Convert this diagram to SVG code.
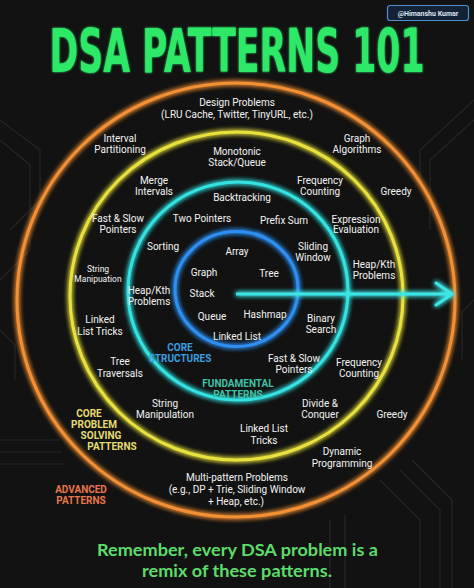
<svg xmlns="http://www.w3.org/2000/svg" width="474" height="588" viewBox="0 0 474 588">
<defs>
<filter id="glow" filterUnits="userSpaceOnUse" x="0" y="0" width="474" height="588">
<feGaussianBlur in="SourceGraphic" stdDeviation="2.5" result="b"/>
<feMerge><feMergeNode in="b"/><feMergeNode in="b"/><feMergeNode in="SourceGraphic"/></feMerge>
</filter>
<filter id="tglow" filterUnits="userSpaceOnUse" x="0" y="0" width="474" height="588">
<feGaussianBlur in="SourceGraphic" stdDeviation="1.2" result="b"/>
<feMerge><feMergeNode in="b"/><feMergeNode in="SourceGraphic"/></feMerge>
</filter>
<marker id="chev" viewBox="0 0 20 26" refX="18" refY="13" markerWidth="20" markerHeight="26" markerUnits="userSpaceOnUse" orient="auto">
<path d="M2 2 L18 13 L2 24" fill="none" stroke="#3ee6e6" stroke-width="3" stroke-linecap="round" stroke-linejoin="round"/>
</marker>
</defs>
<style>
.lbl{font-family:Roboto,"Liberation Sans",sans-serif;font-size:10px;fill:#f2f2f2;text-anchor:middle;dominant-baseline:central}
.sm{font-size:8.5px}
.ring{fill:none;stroke-width:3}
.circ{fill:none;stroke:#262626;stroke-width:1.2}
.cat{font-family:Roboto,"Liberation Sans",sans-serif;font-size:10px;font-weight:bold;text-anchor:middle;dominant-baseline:central}
</style>
<rect x="0" y="0" width="474" height="588" fill="#121212"/>
<g id="circuit">
<path class="circ" d="M0 120 L40 150 L40 200 L10 230"/>
<path class="circ" d="M0 140 L30 165 L30 250 L0 280"/>
<path class="circ" d="M0 330 L15 345 L15 380"/>
<path class="circ" d="M0 440 L60 440 M0 452 L62 452 M0 464 L64 464"/>
<path class="circ" d="M474 100 L420 150 L420 180"/>
<path class="circ" d="M474 120 L430 160 L430 230"/>
<path class="circ" d="M474 300 L462 312 L462 360"/>
<path class="circ" d="M400 470 L440 510 L440 588 M412 460 L452 500 L452 588 M380 480 L420 520 L420 588"/>
<path class="circ" d="M330 520 L330 588 M345 515 L345 588"/>
</g>
<g id="badge">
<rect x="387.5" y="5.5" width="81" height="15" rx="2.5" fill="#142236" stroke="#4f8fcf" stroke-width="1.2"/>
<text x="428" y="13.5" font-family="Roboto,'Liberation Sans',sans-serif" font-size="7" font-weight="bold" fill="#dce6f0" text-anchor="middle" dominant-baseline="central">@Himanshu Kumar</text>
</g>
<g id="title">
<text x="237" y="72" font-family="'Liberation Sans Narrow','DejaVu Sans Condensed','Roboto Condensed',sans-serif" font-size="61" font-weight="bold" fill="#2ee868" text-anchor="middle" textLength="375" lengthAdjust="spacingAndGlyphs" filter="url(#tglow)">DSA PATTERNS 101</text>
</g>
<g id="ring-advanced">
<ellipse class="ring" cx="236" cy="300" rx="219" ry="217" stroke="#f39035" filter="url(#glow)"/>
</g>
<g id="ring-core-problem">
<ellipse class="ring" cx="236.5" cy="296" rx="166.5" ry="164" stroke="#e8e23e" filter="url(#glow)"/>
</g>
<g id="ring-fundamental">
<ellipse class="ring" cx="238" cy="291" rx="110" ry="109" stroke="#34e2e2" filter="url(#glow)"/>
</g>
<g id="ring-core-structures">
<ellipse class="ring" cx="236.5" cy="289" rx="61.5" ry="57.5" stroke="#2f8ff2" filter="url(#glow)"/>
</g>
<g id="connectors">
<line x1="236" y1="294" x2="452" y2="294" stroke="#3ee6e6" stroke-width="3" marker-end="url(#chev)" filter="url(#glow)"/>
</g>
<g id="advanced-labels">
<text class="lbl" x="237" y="102">Design Problems</text>
<text class="lbl" x="237" y="114">(LRU Cache, Twitter, TinyURL, etc.)</text>
<text class="lbl" x="120" y="138">Interval</text>
<text class="lbl" x="120" y="149">Partitioning</text>
<text class="lbl" x="357" y="138">Graph</text>
<text class="lbl" x="357" y="149">Algorithms</text>
<text class="lbl" x="396" y="191">Greedy</text>
<text class="lbl" x="392" y="414">Greedy</text>
<text class="lbl" x="342" y="451">Dynamic</text>
<text class="lbl" x="342" y="463">Programming</text>
<text class="lbl" x="237" y="477">Multi-pattern Problems</text>
<text class="lbl" x="237" y="489">(e.g., DP + Trie, Sliding Window</text>
<text class="lbl" x="236" y="501">+ Heap, etc.)</text>
<text class="cat" x="81" y="489" fill="#e8764c">ADVANCED</text>
<text class="cat" x="81" y="500" fill="#e8764c">PATTERNS</text>
</g>
<g id="core-problem-labels">
<text class="lbl" x="237" y="151">Monotonic</text>
<text class="lbl" x="237" y="162">Stack/Queue</text>
<text class="lbl" x="154" y="180">Merge</text>
<text class="lbl" x="154" y="191">Intervals</text>
<text class="lbl" x="320" y="180">Frequency</text>
<text class="lbl" x="320" y="191">Counting</text>
<text class="lbl" x="118" y="218">Fast &amp; Slow</text>
<text class="lbl" x="118" y="229">Pointers</text>
<text class="lbl" x="356" y="219">Expression</text>
<text class="lbl" x="356" y="229">Evaluation</text>
<text class="lbl sm" x="98" y="269">String</text>
<text class="lbl sm" x="98" y="279">Manipuation</text>
<text class="lbl" x="374" y="264">Heap/Kth</text>
<text class="lbl" x="374" y="275">Problems</text>
<text class="lbl" x="100" y="319">Linked</text>
<text class="lbl" x="100" y="331">List Tricks</text>
<text class="lbl" x="359" y="362">Frequency</text>
<text class="lbl" x="359" y="373">Counting</text>
<text class="lbl" x="120" y="361">Tree</text>
<text class="lbl" x="120" y="373">Traversals</text>
<text class="lbl" x="165" y="403">String</text>
<text class="lbl" x="165" y="414">Manipulation</text>
<text class="lbl" x="320" y="403">Divide &amp;</text>
<text class="lbl" x="320" y="414">Conquer</text>
<text class="lbl" x="264" y="428">Linked List</text>
<text class="lbl" x="264" y="440">Tricks</text>
<text class="cat" x="89" y="413" fill="#e6dc72">CORE</text>
<text class="cat" x="94" y="424" fill="#e6dc72">PROBLEM</text>
<text class="cat" x="101" y="435" fill="#e6dc72">SOLVING</text>
<text class="cat" x="112" y="446" fill="#e6dc72">PATTERNS</text>
</g>
<g id="fundamental-labels">
<text class="lbl" x="242" y="197">Backtracking</text>
<text class="lbl" x="202" y="218">Two Pointers</text>
<text class="lbl" x="284" y="220">Prefix Sum</text>
<text class="lbl" x="163" y="246">Sorting</text>
<text class="lbl" x="313" y="246">Sliding</text>
<text class="lbl" x="313" y="257">Window</text>
<text class="lbl" x="149" y="290">Heap/Kth</text>
<text class="lbl" x="149" y="301">Problems</text>
<text class="lbl" x="321" y="318">Binary</text>
<text class="lbl" x="321" y="329">Search</text>
<text class="lbl" x="294" y="358">Fast &amp; Slow</text>
<text class="lbl" x="294" y="369">Pointers</text>
<text class="cat" x="238" y="383" fill="#3ec4a6">FUNDAMENTAL</text>
<text class="cat" x="238" y="394" fill="#3ec4a6">PATTERNS</text>
</g>
<g id="core-structures-labels">
<text class="lbl" x="237" y="251">Array</text>
<text class="lbl" x="204" y="272">Graph</text>
<text class="lbl" x="269" y="273">Tree</text>
<text class="lbl" x="202" y="293">Stack</text>
<text class="lbl" x="212" y="316">Queue</text>
<text class="lbl" x="265" y="314">Hashmap</text>
<text class="lbl" x="237" y="336">Linked List</text>
<text class="cat" x="180" y="347" fill="#3a9fe0">CORE</text>
<text class="cat" x="180" y="358" fill="#3a9fe0">STRUCTURES</text>
</g>
<g id="footer">
<text x="237.5" y="556" font-family="Lato,'Open Sans',sans-serif" font-size="17" font-weight="bold" fill="#5cdc6a" text-anchor="middle" textLength="281" lengthAdjust="spacingAndGlyphs">Remember, every DSA problem is a</text>
<text x="237" y="577" font-family="Lato,'Open Sans',sans-serif" font-size="17" font-weight="bold" fill="#5cdc6a" text-anchor="middle" textLength="190" lengthAdjust="spacingAndGlyphs">remix of these patterns.</text>
</g>
</svg>
